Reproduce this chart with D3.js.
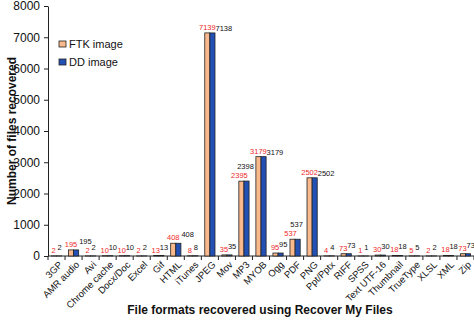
<!DOCTYPE html>
<html>
<head>
<meta charset="utf-8">
<script src="https://cdn.jsdelivr.net/npm/d3@7"></script>
<style>
  body { margin: 0; background: #fff; }
  svg { font-family: "Liberation Sans", Arial, sans-serif; }
</style>
</head>
<body>
<svg id="chart"></svg>
<script>
// categories and values
const formats = ["3GP", "AMR audio", "Avi", "Chrome cache", "Docx/Doc", "Excel", "Gif", "HTML", "iTunes",
  "JPEG", "Mov", "MP3", "MYOB", "Ogg", "PDF", "PNG", "Ppt/Pptx", "RIFF", "SPSS", "Text UTF-16",
  "Thumbnail", "TrueType", "XLSL", "XML", "Zip"];
const ftkImage = [2, 195, 2, 10, 10, 2, 13, 408, 8, 7139, 35, 2395, 3179, 95, 537, 2502, 4, 73, 1, 30, 18, 5, 2, 18, 73];
const ddImage = [2, 195, 2, 10, 10, 2, 13, 408, 8, 7138, 35, 2398, 3179, 95, 537, 2502, 4, 73, 1, 30, 18, 5, 2, 18, 73];
const yTicks = [0, 1000, 2000, 3000, 4000, 5000, 6000, 7000, 8000];
const seriesNames = ["FTK image", "DD image"];

const width = 474, height = 322;
const margin = { top: 6, right: 0, bottom: 66, left: 48 };
const colors = { ftk: "#f9b98c", dd: "#2250b4" };

const svg = d3.select("#chart").attr("width", width).attr("height", height);

const x = d3.scaleBand()
  .domain(formats)
  .range([margin.left, width - margin.right])
  .paddingInner(0.4)
  .paddingOuter(0.2);

const y = d3.scaleLinear()
  .domain([0, 8000])
  .range([height - margin.bottom, margin.top]);

const sub = d3.scaleBand().domain(["ftk", "dd"]).range([0, x.bandwidth()]);

// y axis
const yAxis = svg.append("g")
  .attr("transform", `translate(${margin.left},0)`)
  .call(d3.axisLeft(y).tickValues(yTicks).tickFormat(d3.format("d")).tickSize(4).tickSizeOuter(0));
yAxis.selectAll("text").attr("font-size", 12).attr("fill", "#111").attr("dx", -1);
yAxis.select(".domain").attr("stroke", "#222");
yAxis.selectAll(".tick line").attr("stroke", "#222");

// x axis (ticks between categories)
const xAxisG = svg.append("g").attr("transform", `translate(0,${y(0)})`);
xAxisG.append("line")
  .attr("x1", margin.left).attr("x2", width - margin.right)
  .attr("stroke", "#222");
const step = x.step();
const boundaries = d3.range(formats.length + 1).map(i => margin.left + i * step);
xAxisG.selectAll(".xtick").data(boundaries).enter().append("line")
  .attr("x1", d => d).attr("x2", d => d)
  .attr("y1", 0).attr("y2", 4)
  .attr("stroke", "#222");
xAxisG.selectAll(".xlabel").data(formats).enter().append("text")
  .attr("transform", d => `translate(${x(d) + x.bandwidth() / 2 + 4},7) rotate(-45)`)
  .attr("text-anchor", "end")
  .attr("dy", "0.35em")
  .attr("font-size", 9.5)
  .attr("fill", "#111")
  .text(d => d);

// bars
const rows = formats.map((f, i) => ({
  f, ftk: ftkImage[i], dd: ddImage[i],
  next: i < formats.length - 1 ? Math.max(ftkImage[i + 1], ddImage[i + 1]) : 0
}));
const groups = svg.selectAll(".grp").data(rows).enter().append("g")
  .attr("transform", d => `translate(${x(d.f)},0)`);

groups.append("rect")
  .attr("x", sub("ftk"))
  .attr("y", d => y(d.ftk))
  .attr("width", sub.bandwidth())
  .attr("height", d => y(0) - y(d.ftk))
  .attr("fill", colors.ftk)
  .attr("stroke", "#222")
  .attr("stroke-width", 0.8);

groups.append("rect")
  .attr("x", sub("dd"))
  .attr("y", d => y(d.dd))
  .attr("width", sub.bandwidth())
  .attr("height", d => y(0) - y(d.dd))
  .attr("fill", colors.dd)
  .attr("stroke", "#222")
  .attr("stroke-width", 0.8);

// value labels: tall bars get labels beside the tops, short ones bunch over the pair,
// and when the next pair is taller the black label is stacked above the red one
const mid = x.bandwidth() / 2;
const tall = d => d > 150;
const stacked = d => tall(d.dd) && d.next > d.dd;

groups.append("text")
  .attr("x", d => tall(d.ftk) ? sub("ftk") + sub.bandwidth() / 2 - (stacked(d) ? 2 : 0) : mid - 3)
  .attr("y", d => y(d.ftk) - 3)
  .attr("text-anchor", "middle")
  .attr("font-size", 7.5)
  .attr("fill", "#ee2a2a")
  .text(d => d.ftk);

groups.append("text")
  .attr("x", d => stacked(d) ? sub("dd") + sub.bandwidth() / 2 - 1
    : tall(d.dd) ? x.bandwidth() + 0.5 : mid + 1)
  .attr("y", d => y(d.dd) - (stacked(d) ? 12 : d.dd >= 2500 ? 2 : 6))
  .attr("text-anchor", d => stacked(d) ? "middle" : "start")
  .attr("font-size", 7.5)
  .attr("fill", "#111")
  .text(d => d.dd);

// legend
const legend = svg.append("g").attr("transform", "translate(59,41)");
[colors.ftk, colors.dd].forEach((c, i) => {
  legend.append("rect")
    .attr("x", 0).attr("y", i * 18)
    .attr("width", 7).attr("height", 6)
    .attr("fill", c).attr("stroke", "#222").attr("stroke-width", 0.8);
  legend.append("text")
    .attr("x", 10).attr("y", i * 18 + 3)
    .attr("dy", "0.35em")
    .attr("font-size", 11)
    .attr("fill", "#111")
    .text(seriesNames[i]);
});

// axis titles
svg.append("text")
  .attr("transform", `translate(12,${(y(0) + y(8000)) / 2}) rotate(-90)`)
  .attr("text-anchor", "middle")
  .attr("dy", "0.35em")
  .attr("font-size", 12)
  .attr("font-weight", "bold")
  .attr("fill", "#111")
  .text("Number of files recovered");

svg.append("text")
  .attr("x", 260).attr("y", 314)
  .attr("text-anchor", "middle")
  .attr("font-size", 12)
  .attr("font-weight", "bold")
  .attr("fill", "#111")
  .text("File formats recovered using Recover My Files");
</script>
</body>
</html>
